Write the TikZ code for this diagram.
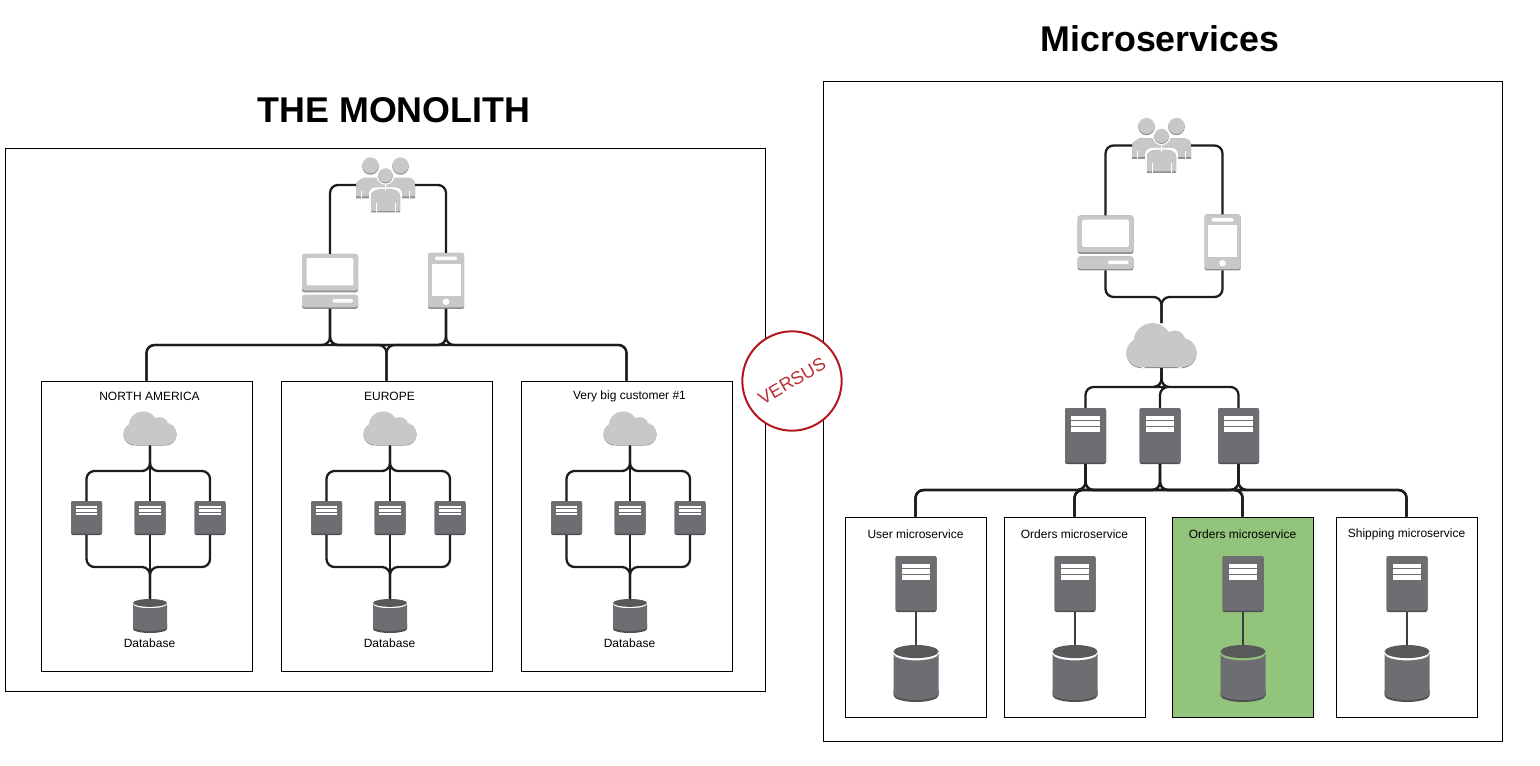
\documentclass[tikz,border=0pt]{standalone}
\usepackage{fontspec}
\setmainfont{Liberation Sans}
\definecolor{srvgray}{HTML}{6D6E71}
\definecolor{srvdark}{HTML}{4F5052}
\definecolor{icolight}{HTML}{C7C8C9}
\definecolor{icodark}{HTML}{8E8F91}
\definecolor{wirecol}{HTML}{1C1C1C}
\definecolor{stampred}{HTML}{B2181E}
\definecolor{okgreen}{HTML}{92C47C}
\tikzset{
	wire/.style={draw=wirecol,line width=1.7pt,rounded corners=6pt},
	stub/.style={draw=wirecol!85!white,line width=1.5pt},
	box/.style={draw=black,line width=0.75pt,inner sep=0pt},
	icobox/.style={inner sep=0pt,outer sep=0pt},
	small/.style={font=\fontsize{9pt}{11pt}\selectfont,inner sep=0.75pt},
	title/.style={font=\fontsize{26.85pt}{30pt}\selectfont\bfseries,inner sep=0.75pt},
	pics/server/.style 2 args={code={
		\begin{scope}[yscale=-1]
			\fill[srvdark,rounded corners=1.5pt] (-#1/2,-#2/2) rectangle (#1/2,#2/2);
			\fill[srvgray,rounded corners=1.5pt] (-#1/2,-#2/2) rectangle (#1/2,#2/2-1.4);
			\foreach \k in {0,1,2}
				\fill[white] (-.35*#1,-#2/2+.14*#2+.1*\k*#2) rectangle ++(.7*#1,.08*#2);
		\end{scope}
		\node[icobox,minimum width=#1*0.75pt,minimum height=#2*0.75pt] (-box) {};
	}},
	pics/db/.style 2 args={code={
		\begin{scope}[yscale=-1]
			\fill[srvdark] (-#1/2,#2/2-.115*#2) arc[start angle=180,end angle=0,x radius=#1/2,y radius=.115*#2]
				-- (#1/2,#2/2-.115*#2-5) -- (-#1/2,#2/2-.115*#2-5) -- cycle;
			\fill[srvgray] (-#1/2,-#2/2+.115*#2+.04*#2) arc[start angle=180,end angle=0,x radius=#1/2,y radius=.115*#2]
				-- (#1/2,#2/2-.115*#2-2) arc[start angle=0,end angle=180,x radius=#1/2,y radius=.115*#2] -- cycle;
			\fill[srvdark!70!srvgray] (0,-#2/2+.115*#2) ellipse[x radius=#1/2,y radius=.115*#2];
		\end{scope}
		\node[icobox,minimum width=#1*0.75pt,minimum height=#2*0.75pt] (-box) {};
	}},
	pics/cloud/.style={code={
		\begin{scope}[scale=#1,yscale=-1]
			\fill[icodark] (-20.5,8) circle[radius=14.5] (20.5,8) circle[radius=14.5] (-20.5,8) rectangle (20.5,22.5);
			\fill[icolight] (-20.5,7) circle[radius=14.5] (20.5,7) circle[radius=14.5] (-9,-3.5) circle[radius=19]
				(13,-4) circle[radius=11];
			\fill[icolight] (-20.5,-2) rectangle (20.5,21.5);
		\end{scope}
		\node[icobox,minimum width=#1*53.25pt,minimum height=#1*33.75pt] (-box) {};
	}},
	pics/users/.style={code={
		\begin{scope}[yscale=-1]
			\foreach \sx in {-15,15} {
				\fill[icodark] (\sx,-18.6) circle[radius=8.3];
				\fill[icolight] (\sx,-19.6) circle[radius=8.1];
			}
			\foreach \sx in {-1,1} {
				\fill[icodark] (\sx*29.5,13.5) -- (\sx*29.5,-1) to[out=-90,in=0] (\sx*23,-7) -- (\sx*1,-7) -- (\sx*1,13.5) -- cycle;
				\fill[icolight] (\sx*29.5,11.5) -- (\sx*29.5,-1) to[out=-90,in=0] (\sx*23,-7) -- (\sx*1,-7) -- (\sx*1,11.5) -- cycle;
				\draw[white,line width=0.6pt] (\sx*24,13.5) -- (\sx*24,6);
			}
			\fill[white] (0,-9.3) circle[radius=9];
			\fill[icodark] (0,-8.8) circle[radius=7.3];
			\fill[icolight] (0,-9.6) circle[radius=7.1];
			\fill[white,rounded corners=5pt] (-16.5,28) rectangle (16.5,2.5);
			\fill[icodark] (-14.5,27.5) -- (-14.5,11) to[out=-90,in=180] (-6,4.5) -- (6,4.5) to[out=0,in=-90] (14.5,11) -- (14.5,27.5) -- cycle;
			\fill[icolight] (-14.5,25.8) -- (-14.5,11) to[out=-90,in=180] (-6,4.5) -- (6,4.5) to[out=0,in=-90] (14.5,11) -- (14.5,25.8) -- cycle;
			\draw[white,line width=0.6pt] (-9.5,27.5) -- (-9.5,18) (9.5,27.5) -- (9.5,18) (0,2.5) -- (0,6.5);
		\end{scope}
		\node[icobox,minimum width=44.25pt,minimum height=42.75pt] (-box) {};
	}},
	pics/laptop/.style={code={
		\begin{scope}[yscale=-1]
			%screen
			\fill[icodark,rounded corners=2pt] (-28,-27.5) rectangle (28,11);
			\fill[icolight,rounded corners=2pt] (-28,-27.5) rectangle (28,9.2);
			\fill[white,rounded corners=1pt] (-23.3,-23.3) rectangle (23.4,4);
			%base
			\fill[icodark,rounded corners=2pt] (-28,13.5) rectangle (28,27.5);
			\fill[icolight,rounded corners=2pt] (-28,13.5) rectangle (28,25.8);
			\fill[white,rounded corners=1pt] (2.5,17.6) rectangle (23,21.2);
		\end{scope}
		\node[icobox,minimum width=42pt,minimum height=41.25pt] (-box) {};
	}},
	pics/phone/.style={code={
		\begin{scope}[yscale=-1]
			\fill[icodark,rounded corners=1.5pt] (-18,-28) rectangle (18,28);
			\fill[icolight,rounded corners=1.5pt] (-18,-28) rectangle (18,26.3);
			\fill[white,rounded corners=1pt] (-11,-24.4) rectangle (11,-20.9);
			\fill[white] (-14.5,-17) rectangle (14.8,15);
			\fill[white] (0,20.7) circle[radius=3.3];
		\end{scope}
		\node[icobox,minimum width=27pt,minimum height=42pt] (-box) {};
	}},
}
\newcommand{\busline}[3]{\draw[wire] (#1.south) -- (#1.south |- #3) -- (#2.north |- #3) -- (#2.north);}
\begin{document}
\begin{tikzpicture}[x=0.75pt,y=0.75pt,yscale=-1,xscale=1]
	\useasboundingbox (0,0) rectangle (1540,766);

	% Text Node
	\node[title] (titlemono) at (394,110) {THE MONOLITH};
	% Text Node
	\node[title] (titlemicro) at (1160,39) {Microservices};

	%Shape: Rectangle
	\node[box,minimum width=570pt,minimum height=406.5pt] (framemono) at (385,420) {};
	%Shape: Rectangle
	\node[box,minimum width=509.25pt,minimum height=494.25pt] (framemicro) at (1162.5,411.5) {};

	%Monolith clients
	\pic (usersL) at (385.5,185) {users};
	\pic (lapL) at (330,281.5) {laptop};
	\pic (phoneL) at (446,281) {phone};
	\draw[wire] (usersL-box.west) -- (usersL-box.west -| lapL-box.north) -- (lapL-box.north);
	\draw[wire] (usersL-box.east) -- (usersL-box.east -| phoneL-box.north) -- (phoneL-box.north);

	\coordinate (busL) at (0,345);
	%Monolith regions
	\foreach \rg/\bx/\cx/\txt in {na/146.5/150/NORTH AMERICA,eu/386.5/390/EUROPE,big/626.5/630/Very big customer \#1} {
		\node[box,minimum width=158.25pt,minimum height=217.5pt] (\rg) at (\bx,526) {};
		\node[small] (\rg text) at (\cx-0.5,396) {\txt};
		\pic (cloud\rg) at (\cx,428.5) {cloud=0.76};
		\pic (dbase\rg) at (\cx,616) {db={34}{34}};
		\node[small] (\rg dbtext) at (\cx-0.5,643) {Database};
		\coordinate (up\rg) at (0,471);
		\coordinate (lo\rg) at (0,567);
		\foreach \sv/\dx in {a/-63.5,b/0,c/60} {
			\pic (srv\rg\sv) at (\cx+\dx,518) {server={31}{34}};
			\busline{cloud\rg-box}{srv\rg\sv-box}{up\rg}
			\busline{srv\rg\sv-box}{dbase\rg-box}{lo\rg}
		}
		\busline{lapL-box}{\rg}{busL}
		\busline{phoneL-box}{\rg}{busL}
	}

	%Microservices clients
	\pic (usersR) at (1161.5,145.5) {users};
	\pic (lapR) at (1105.5,243) {laptop};
	\pic (phoneR) at (1222.5,242.5) {phone};
	\pic (cloudR) at (1161.5,345.5) {cloud=1};
	\draw[wire] (usersR-box.west) -- (usersR-box.west -| lapR-box.north) -- (lapR-box.north);
	\draw[wire] (usersR-box.east) -- (usersR-box.east -| phoneR-box.north) -- (phoneR-box.north);
	\coordinate (busA) at (0,297);
	\coordinate (busB) at (0,387);
	\coordinate (busC) at (0,490);
	\busline{lapR-box}{cloudR-box}{busA}
	\busline{phoneR-box}{cloudR-box}{busA}

	%Microservices front servers
	\foreach \sv/\cx in {a/1085.5,b/1160,c/1238.5} {
		\pic (front\sv) at (\cx,436) {server={41}{56}};
		\busline{cloudR-box}{front\sv-box}{busB}
	}

	%Microservices boxes
	\foreach \ms/\cx/\bg in {ms1/915.5/white,ms2/1074.5/white,ms3/1242.5/okgreen,ms4/1406.5/white} {
		\node[box,fill=\bg,minimum width=105.75pt,minimum height=150pt] (\ms) at (\cx,617) {};
		\pic (\ms srv) at (\cx+0.5,584) {server={41}{56}};
		\pic (\ms db) at (\cx+0.5,673.5) {db={45}{57}};
		\draw[stub] (\ms srv-box.south) -- (\ms db-box.north);
		\foreach \sv in {a,b,c} {
			\busline{front\sv-box}{\ms}{busC}
		}
	}
	% Text Node
	\node[small] (ms1text) at (915.5,534.5) {User microservice};
	\node[small] (ms2text) at (1074.5,534.5) {Orders microservice};
	\node[small] (ms3text) at (1242.5,534.5) {Orders microservice};
	\node[small] (ms4text) at (1406.5,534.5) {Shipping microservice};

	%Shape: Circle
	\node[circle,draw=stampred,fill=white,line width=1.5pt,minimum size=74.5pt,inner sep=0pt,rotate=30,text=stampred!90!white,font=\fontsize{13.6pt}{16pt}\selectfont] (stamp) at (792,381) {VERSUS};
\end{tikzpicture}
\end{document}
